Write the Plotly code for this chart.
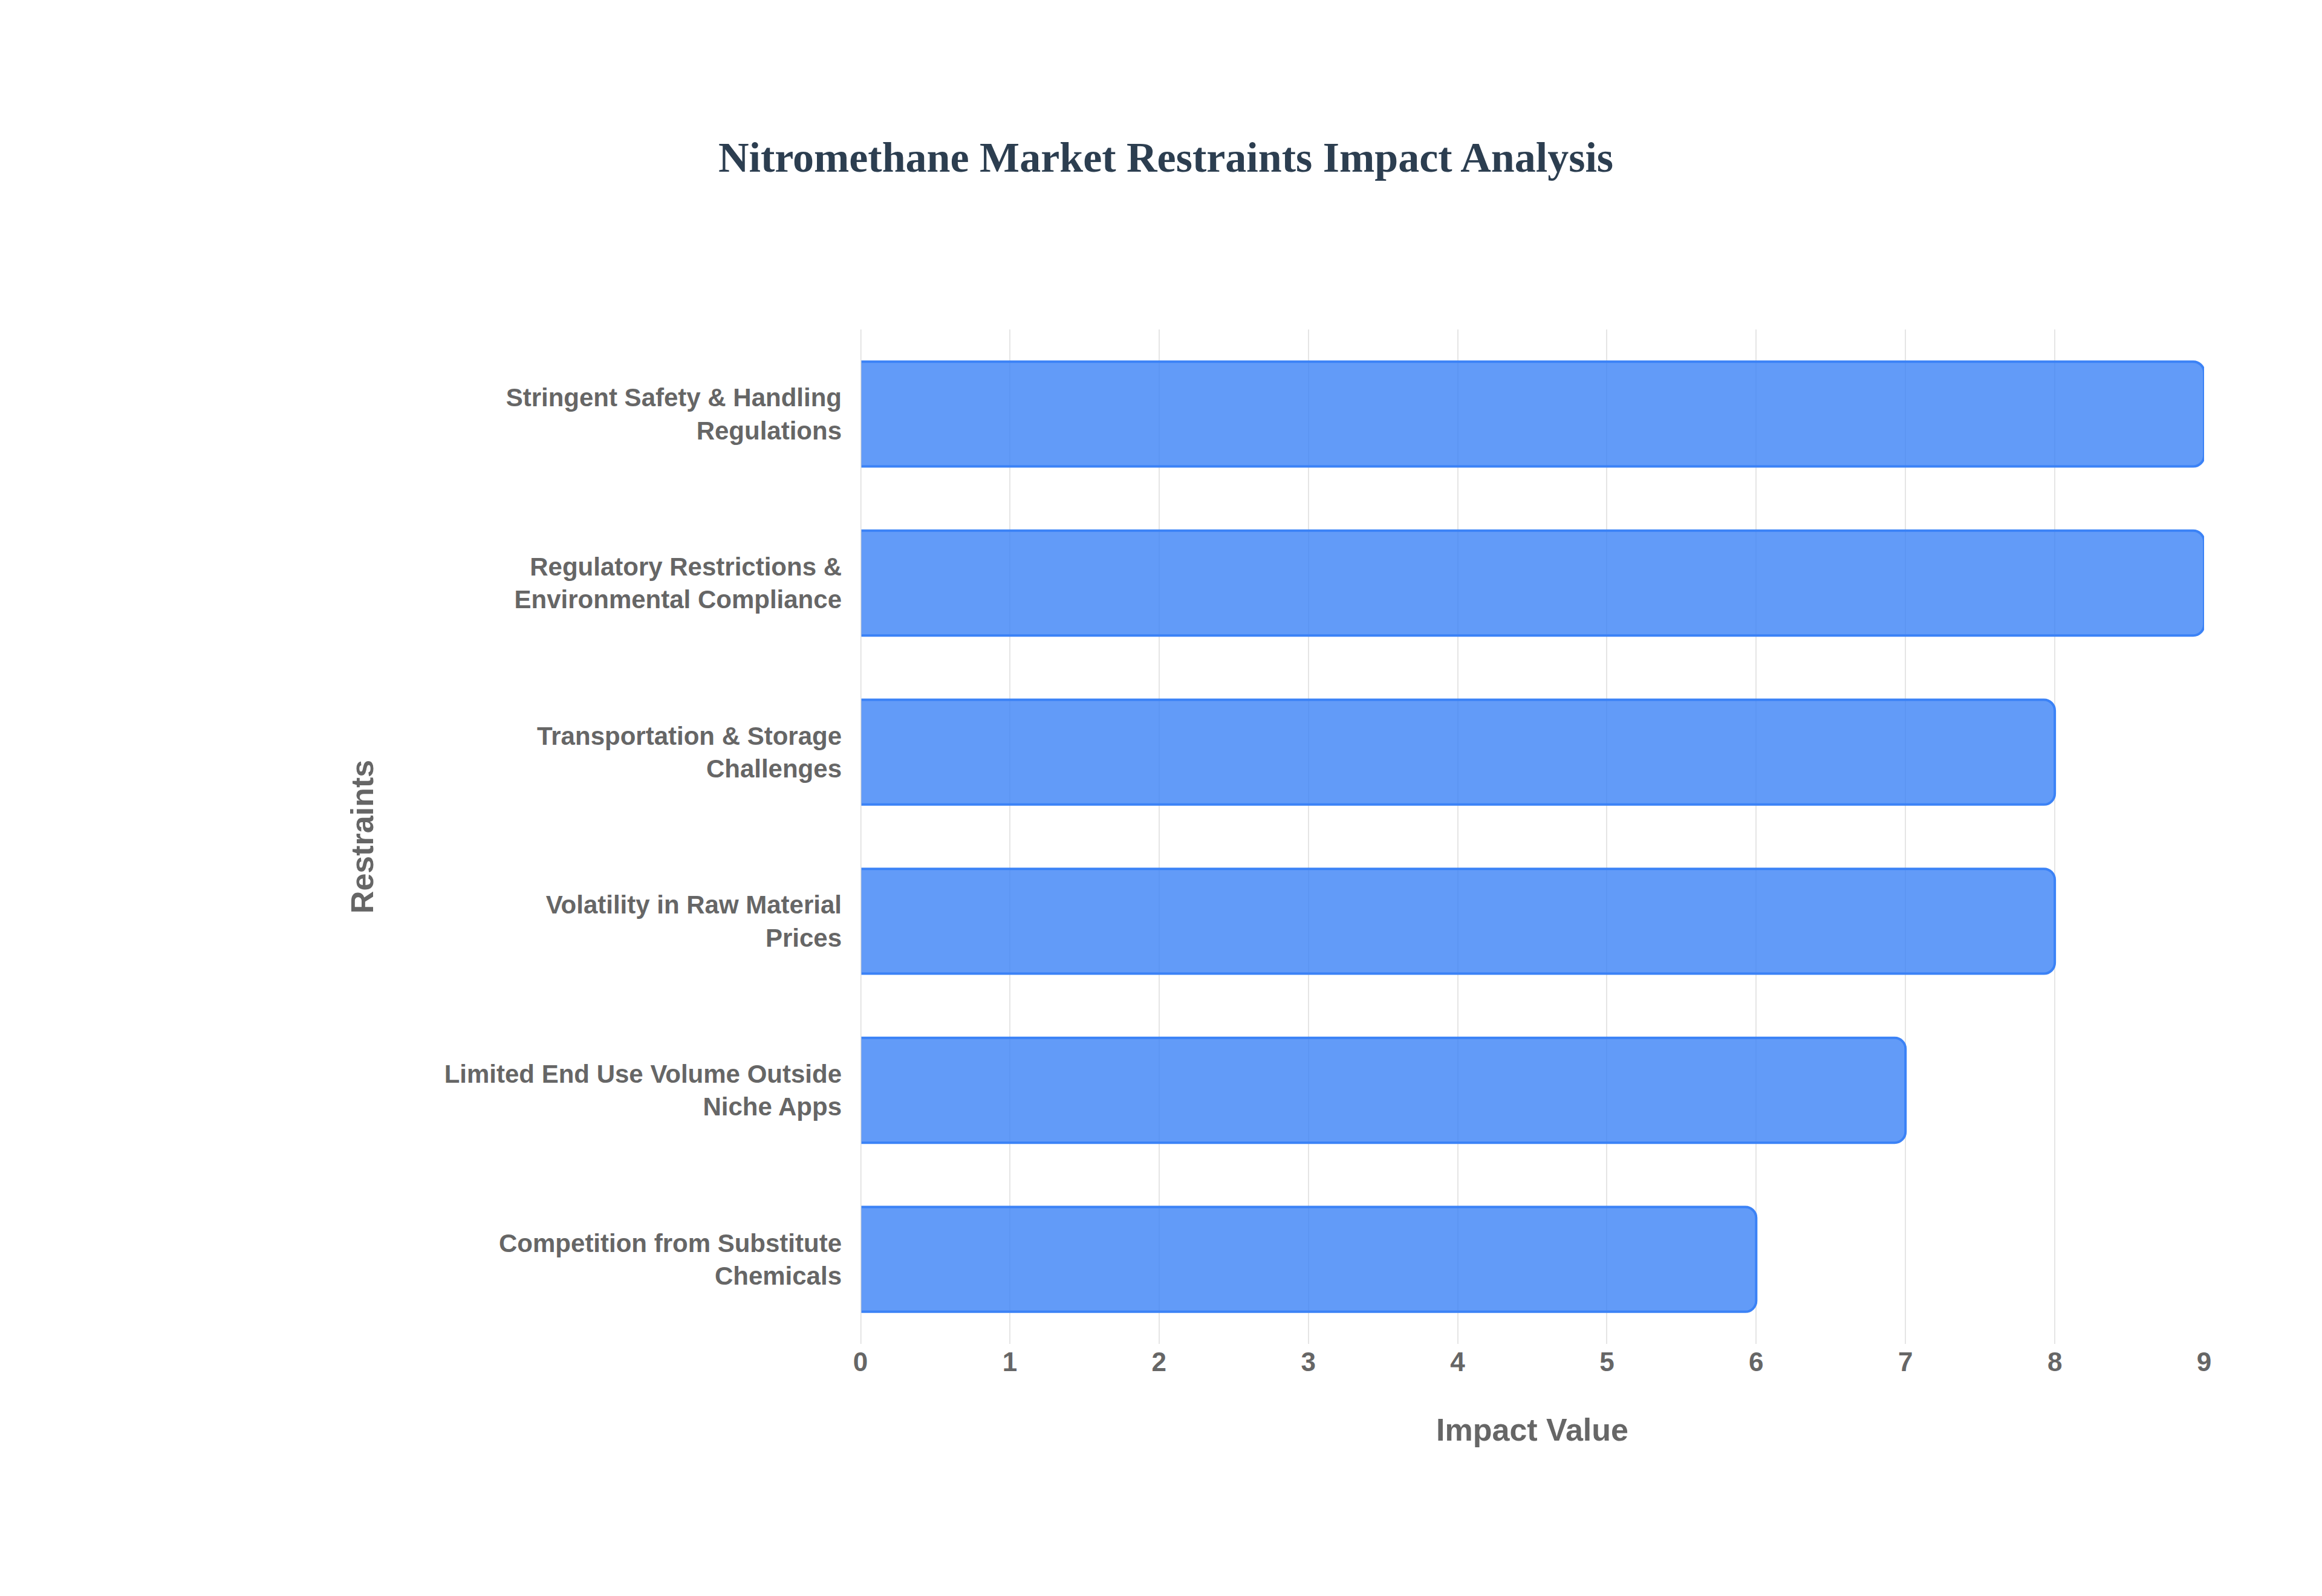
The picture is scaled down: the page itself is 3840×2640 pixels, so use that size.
import plotly.graph_objects as go

restraints = [
    "Stringent Safety & Handling<br>Regulations",
    "Regulatory Restrictions &<br>Environmental Compliance",
    "Transportation & Storage<br>Challenges",
    "Volatility in Raw Material<br>Prices",
    "Limited End Use Volume Outside<br>Niche Apps",
    "Competition from Substitute<br>Chemicals",
]
impact = [9, 9, 8, 8, 7, 6]

fig = go.Figure(go.Bar(
    x=impact,
    y=restraints,
    orientation="h",
    marker=dict(color="rgba(59,130,246,0.8)",
                line=dict(color="#3b82f6", width=4),
                cornerradius=18),
))

label_font = dict(family="Liberation Sans, Arial", size=42, color="#666666")

fig.update_layout(
    width=3840, height=2640,
    title=dict(text="<b>Nitromethane Market Restraints Impact Analysis</b>",
               x=0.5, xanchor="center", y=0.914,
               font=dict(family="Liberation Serif, Times New Roman", size=70, color="#2c3e50")),
    plot_bgcolor="white", paper_bgcolor="white",
    margin=dict(l=1415, r=203, t=537, b=425),
    bargap=0.38,
    showlegend=False,
    xaxis=dict(range=[0, 9], dtick=1, showgrid=True, gridcolor="#e5e5e5", gridwidth=2,
               zeroline=False, showline=False, ticks="",
               tickfont=dict(family="Liberation Sans, Arial", size=44, color="#666666"),
               title=dict(text="<b>Impact Value</b>", standoff=70,
                          font=dict(family="Liberation Sans, Arial", size=52, color="#666666"))),
    yaxis=dict(autorange="reversed", showgrid=False, ticks="", ticklabelstandoff=30,
               tickfont=label_font,
               title=dict(text="<b>Restraints</b>", standoff=100,
                          font=dict(family="Liberation Sans, Arial", size=52, color="#666666"))),
)
fig.update_xaxes(tickprefix="<b>", ticksuffix="</b>")
fig.update_yaxes(tickprefix="<b>", ticksuffix="</b>")

fig.add_shape(type="line", xref="x", yref="paper", x0=0, x1=0, y0=0, y1=1,
              line=dict(color="#dddddd", width=3))

fig.write_html("out.html")
